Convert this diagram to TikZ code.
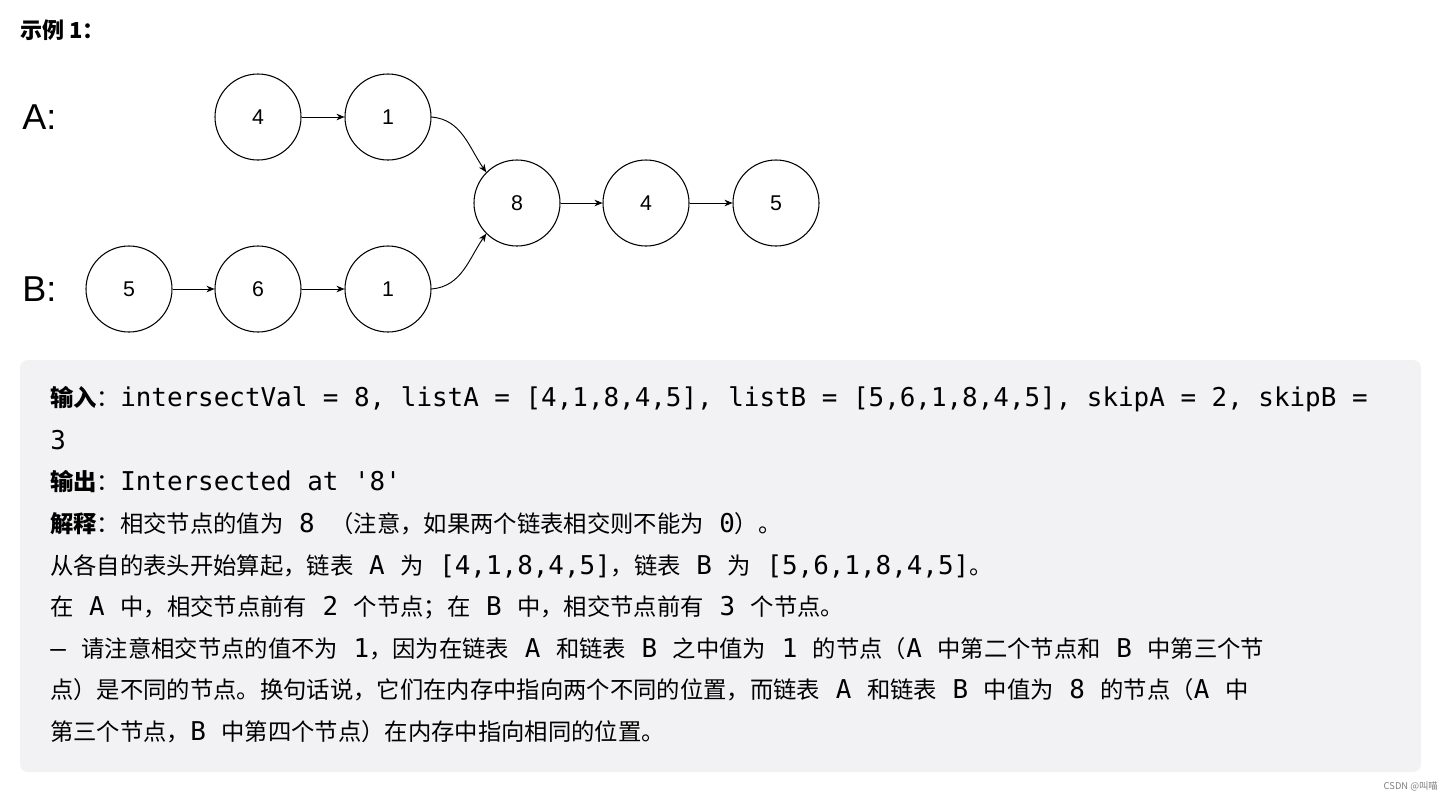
\documentclass[tikz,border=0pt]{standalone}
\usepackage{fontspec}
\setmainfont{Liberation Sans}
\newfontfamily\cjk{Noto Sans CJK SC}
\newfontfamily\mono{DejaVu Sans Mono}[Scale=1.11]
\usetikzlibrary{arrows.meta}
\newcommand{\m}[1]{{\mono #1}}
\begin{document}
\begin{tikzpicture}[x=0.75pt,y=-0.75pt,
  nd/.style={circle,draw=black,line width=0.8pt,minimum size=64.5pt,inner sep=0pt,font=\fontsize{16}{18}\selectfont},
  ar/.style={-{Stealth[length=6pt,width=5pt]},line width=0.7pt},
  tl/.style={anchor=west,inner sep=0pt,font=\fontsize{17.5}{20}\selectfont\cjk},
  lab/.style={anchor=west,inner sep=0pt,font=\fontsize{27}{30}\selectfont}]
\useasboundingbox (0,0) rectangle (1452,800);
\fill[white] (0,0) rectangle (1452,800);
\node[anchor=west,inner sep=0pt,font=\fontsize{16.5}{20}\selectfont\cjk\bfseries] (title) at (20,30) {示例 1：};
\node[lab] (la) at (22,117) {A:};
\node[lab] (lb) at (22,289) {B:};
\node[nd] (a1) at (258,117) {4};
\node[nd] (a2) at (388,117) {1};
\node[nd] (c1) at (517,203) {8};
\node[nd] (c2) at (646,203) {4};
\node[nd] (c3) at (776,203) {5};
\node[nd] (b1) at (129,289) {5};
\node[nd] (b2) at (258,289) {6};
\node[nd] (b3) at (388,289) {1};
\draw[ar] (a1) -- (a2);
\draw[ar] (b1) -- (b2);
\draw[ar] (b2) -- (b3);
\draw[ar] (c1) -- (c2);
\draw[ar] (c2) -- (c3);
\draw[ar] (a2.east) to[out=-5,in=125] (c1.north west);
\draw[ar] (b3.east) to[out=5,in=-125] (c1.south west);
\fill[rounded corners=6pt,fill={rgb,255:red,242;green,242;blue,244}] (20,360) rectangle (1421,772);
\node[tl] (l1) at (50,399) {\textbf{输入}：\m{intersectVal = 8, listA = [4,1,8,4,5], listB = [5,6,1,8,4,5], skipA = 2, skipB =}};
\node[tl] (l2) at (50,440) {\m{3}};
\node[tl] (l3) at (50,482) {\textbf{输出}：\m{Intersected at '8'}};
\node[tl] (l4) at (50,524) {\textbf{解释}：相交节点的值为\m{ 8 }（注意，如果两个链表相交则不能为\m{ 0}）。};
\node[tl] (l5) at (50,566) {从各自的表头开始算起，链表\m{ A }为\m{ [4,1,8,4,5]}，链表\m{ B }为\m{ [5,6,1,8,4,5]}。};
\node[tl] (l6) at (50,607) {在\m{ A }中，相交节点前有\m{ 2 }个节点；在\m{ B }中，相交节点前有\m{ 3 }个节点。};
\node[tl] (l7) at (50,649) {\m{— }请注意相交节点的值不为\m{ 1}，因为在链表\m{ A }和链表\m{ B }之中值为\m{ 1 }的节点（\m{A }中第二个节点和\m{ B }中第三个节};
\node[tl] (l8) at (50,690) {点）是不同的节点。换句话说，它们在内存中指向两个不同的位置，而链表\m{ A }和链表\m{ B }中值为\m{ 8 }的节点（\m{A }中};
\node[tl] (l9) at (50,732) {第三个节点，\m{B }中第四个节点）在内存中指向相同的位置。};
\node[anchor=east,inner sep=0pt,text=gray,font=\fontsize{7}{8}\selectfont\cjk] (wm) at (1438,786) {CSDN @叫喵};
\end{tikzpicture}
\end{document}
